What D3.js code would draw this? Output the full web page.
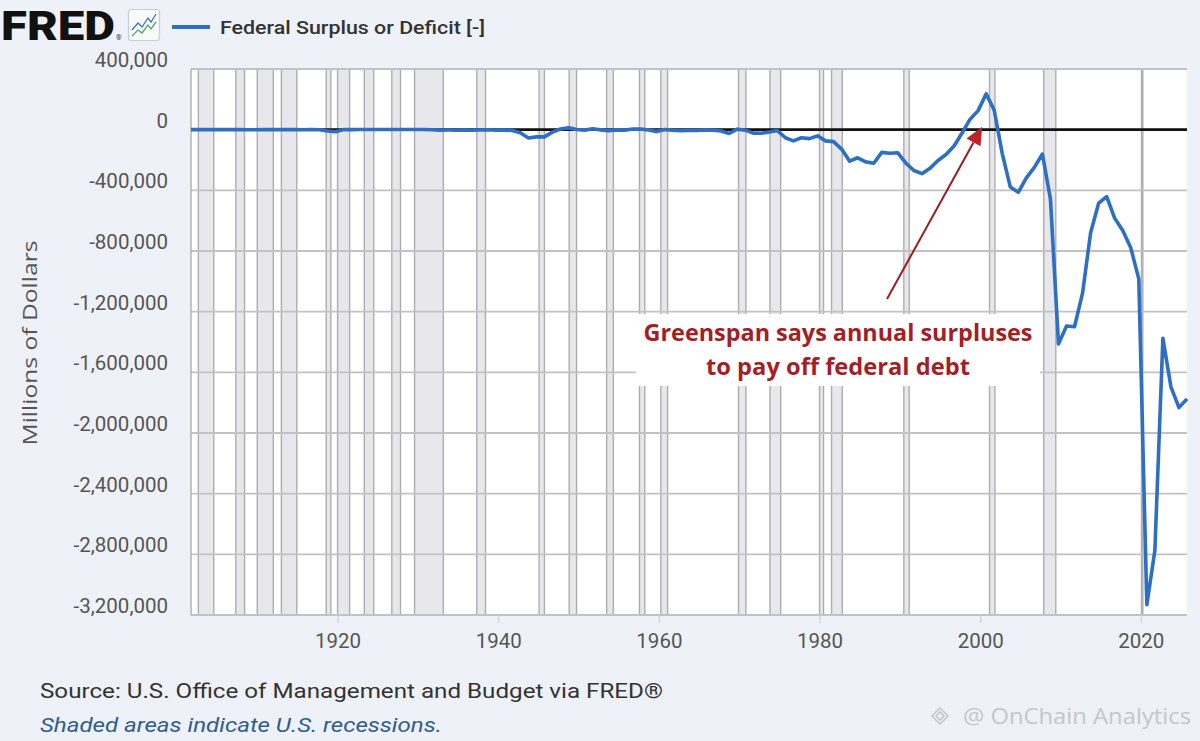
<!DOCTYPE html>
<html><head><meta charset="utf-8">
<script src="https://cdn.jsdelivr.net/npm/d3@7"></script>
<style>html,body{margin:0;padding:0;background:#eef1f7;}svg{display:block}</style>
</head><body><svg id="c" width="1200" height="741"></svg>
<script>
// ---------- data ----------
const years = [1901,1902,1903,1904,1905,1906,1907,1908,1909,1910,1911,1912,1913,1914,1915,1916,1917,1918,1919,1920,
1921,1922,1923,1924,1925,1926,1927,1928,1929,1930,1931,1932,1933,1934,1935,1936,1937,1938,1939,1940,
1941,1942,1943,1944,1945,1946,1947,1948,1949,1950,1951,1952,1953,1954,1955,1956,1957,1958,1959,1960,
1961,1962,1963,1964,1965,1966,1967,1968,1969,1970,1971,1972,1973,1974,1975,1976,1977,1978,1979,1980,
1981,1982,1983,1984,1985,1986,1987,1988,1989,1990,1991,1992,1993,1994,1995,1996,1997,1998,1999,2000,
2001,2002,2003,2004,2005,2006,2007,2008,2009,2010,2011,2012,2013,2014,2015,2016,2017,2018,2019,2020,
2021,2022,2023,2024,2025];
// Federal surplus or deficit, millions of dollars (fiscal years)
const deficit = [63,77,45,-43,-23,25,87,-57,-89,-18,11,3,0,0,-63,48,-853,-9032,-13363,291,
509,736,713,963,717,865,1155,939,734,738,-462,-2735,-2602,-3586,-2803,-4304,-2193,-89,-2846,-2920,
-4941,-20503,-54554,-47557,-47553,-15936,4018,11796,580,-3119,6102,-1519,-6493,-1154,-2993,3947,3412,-2769,-12849,301,
-3335,-7146,-4756,-5915,-1411,-3698,-8643,-25161,3242,-2842,-23033,-23373,-14908,-6135,-53242,-73732,-53659,-59185,-40726,-73830,
-78968,-127977,-207802,-185367,-212308,-221227,-149730,-155178,-152639,-221036,-269238,-290321,-255051,-203186,-163952,-107431,-21884,69270,125610,236241,
128236,-157758,-377585,-412727,-318346,-248181,-160701,-458553,-1412688,-1294373,-1299599,-1076573,-679775,-484602,-441960,-584651,-665446,-779137,-983594,-3132460,
-2775306,-1375858,-1695243,-1832813,-1775000];
const recessionStarts = ["1902-09","1907-05","1910-01","1913-01","1918-08","1920-01","1923-05","1926-10","1929-08","1937-05",
"1945-02","1948-11","1953-07","1957-08","1960-04","1969-12","1973-11","1980-01","1981-07","1990-07","2001-03","2007-12","2020-02"];
const recessionEnds = ["1904-08","1908-06","1912-01","1914-12","1919-03","1921-07","1924-07","1927-11","1933-03","1938-06",
"1945-10","1949-10","1954-05","1958-04","1961-02","1970-11","1975-03","1980-07","1982-11","1991-03","2001-11","2009-06","2020-04"];
const yTicks = [400000,0,-400000,-800000,-1200000,-1600000,-2000000,-2400000,-2800000,-3200000];
const xTickYears = [1920,1940,1960,1980,2000,2020];
const seriesTitle = "Federal Surplus or Deficit [-]";
const yTitle = "Millions of Dollars";
const sourceText = "Source: U.S. Office of Management and Budget via FRED\u00AE";
const noteText = "Shaded areas indicate U.S. recessions.";
const annotationLines = ["Greenspan says annual surpluses","to pay off federal debt"];
const annotationYear = 2000;
const watermark = "@ OnChain Analytics";

// ---------- setup ----------
const svg = d3.select("#c");
const W = 1200, H = 741;
const plot = {left:191, right:1187, top:69, bottom:615};
const parseM = d3.timeParse("%Y-%m");
const obsDate = y => new Date(y, 9, 1);
const data = years.map((y,i)=>({date:obsDate(y), v:deficit[i]}));

const x = d3.scaleTime().domain([obsDate(years[0]), obsDate(years[years.length-1])]).range([plot.left, plot.right]);
const y = d3.scaleLinear().domain([-3200000, 400000]).range([plot.bottom, plot.top]);
const fmt = d3.formatLocale({decimal:".", thousands:",", grouping:[3], currency:["$",""], minus:"-"}).format(",");

svg.append("rect").attr("width",W).attr("height",H).attr("fill","#eef1f7");
svg.append("rect").attr("x",plot.left).attr("y",plot.top).attr("width",plot.right-plot.left).attr("height",plot.bottom-plot.top).attr("fill","#ffffff");

// recession bands
const rec = recessionStarts.map((s,i)=>({s:parseM(s), e:parseM(recessionEnds[i])}));
const gRec = svg.append("g");
gRec.selectAll("rect").data(rec).join("rect")
  .attr("x",d=>x(d.s)).attr("width",d=>Math.max(1,x(d.e)-x(d.s)))
  .attr("y",plot.top).attr("height",plot.bottom-plot.top).attr("fill","#e8e8ec");
gRec.selectAll("line.a").data(rec).join("line").attr("class","a")
  .attr("x1",d=>x(d.s)).attr("x2",d=>x(d.s)).attr("y1",plot.top).attr("y2",plot.bottom)
  .attr("stroke","#adadb1").attr("stroke-width",1.4);
gRec.selectAll("line.b").data(rec).join("line").attr("class","b")
  .attr("x1",d=>x(d.e)).attr("x2",d=>x(d.e)).attr("y1",plot.top).attr("y2",plot.bottom)
  .attr("stroke","#adadb1").attr("stroke-width",1.4);

// horizontal gridlines
svg.append("g").selectAll("line").data(yTicks).join("line")
  .attr("x1",plot.left).attr("x2",plot.right).attr("y1",d=>y(d)).attr("y2",d=>y(d))
  .attr("stroke","#c2c2c6").attr("stroke-width",1.8);
// left border
svg.append("line").attr("x1",plot.left).attr("x2",plot.left).attr("y1",plot.top).attr("y2",plot.bottom)
  .attr("stroke","#b5b5b9").attr("stroke-width",1.5);

// y axis
const yAxis = svg.append("g").attr("transform",`translate(${plot.left},0)`)
  .call(d3.axisLeft(y).tickValues(yTicks).tickFormat(fmt).tickSize(0).tickPadding(23));
yAxis.select(".domain").remove();
yAxis.selectAll("text").attr("dy","-0.12em").attr("font-family","Roboto, sans-serif").attr("font-size",20.5).attr("fill","#555");

// x axis
const xAxis = svg.append("g").attr("transform",`translate(0,${plot.bottom})`)
  .call(d3.axisBottom(x).tickValues(xTickYears.map(v=>new Date(v,0,1))).tickFormat(d3.timeFormat("%Y")).tickSize(8).tickPadding(10));
xAxis.select(".domain").remove();
xAxis.selectAll("line").attr("stroke","#cfcfd3").attr("stroke-width",1.2);
xAxis.selectAll("text").attr("font-family","Roboto, sans-serif").attr("font-size",20.5).attr("fill","#555");

// zero line
svg.append("line").attr("x1",plot.left).attr("x2",plot.right).attr("y1",y(0)).attr("y2",y(0))
  .attr("stroke","#111").attr("stroke-width",2.6);

// annotation box
svg.append("rect").attr("x",636).attr("y",314).attr("width",404).attr("height",72).attr("fill","#ffffff");

// series line
svg.append("path").datum(data)
  .attr("d",d3.line().x(d=>x(d.date)).y(d=>y(d.v)))
  .attr("fill","none").attr("stroke","#2d6fc3").attr("stroke-width",3.6).attr("stroke-linejoin","round");

// annotation arrow
const peak = data[years.indexOf(annotationYear)];
const tip = [x(peak.date)-4, y(0)-3];
const tail = [887, 299];
const ang = Math.atan2(tip[1]-tail[1], tip[0]-tail[0]);
const hl = 18, hw = 8;
const base = [tip[0]-hl*Math.cos(ang), tip[1]-hl*Math.sin(ang)];
svg.append("line").attr("x1",tail[0]).attr("y1",tail[1]).attr("x2",base[0]).attr("y2",base[1])
  .attr("stroke","#9b1c22").attr("stroke-width",2);
svg.append("path").attr("d",d3.line()([tip,[base[0]+hw*Math.sin(ang),base[1]-hw*Math.cos(ang)],[base[0]-hw*Math.sin(ang),base[1]+hw*Math.cos(ang)]]))
  .attr("fill","#c0222a");

// annotation text
const ann = svg.append("g").attr("font-family","'Open Sans', sans-serif").attr("font-weight",700).attr("fill","#a41e25").attr("text-anchor","middle");
ann.append("text").attr("x",838).attr("y",341).attr("font-size",23).attr("textLength",389).attr("lengthAdjust","spacingAndGlyphs").text(annotationLines[0]);
ann.append("text").attr("x",838).attr("y",375).attr("font-size",23).attr("textLength",264).attr("lengthAdjust","spacingAndGlyphs").text(annotationLines[1]);

// y title
svg.append("text").attr("transform","translate(37,343) rotate(-90)").attr("text-anchor","middle")
  .attr("font-family","'Open Sans', sans-serif").attr("font-size",20).attr("fill","#555")
  .attr("textLength",205).attr("lengthAdjust","spacingAndGlyphs").text(yTitle);

// header: FRED logo
svg.append("text").attr("x",1).attr("y",40).attr("font-family","Roboto, 'Liberation Sans', sans-serif").attr("font-weight",900)
  .attr("font-size",41).attr("fill","#111").attr("textLength",114).attr("lengthAdjust","spacingAndGlyphs").text("FRED");
svg.append("text").attr("x",116).attr("y",40).attr("font-family","Roboto, sans-serif").attr("font-size",7).attr("fill","#333").text("\u00AE");
// icon
svg.append("rect").attr("x",128.5).attr("y",9.5).attr("width",31).attr("height",31).attr("rx",3)
  .attr("fill","#f7f9fb").attr("stroke","#c9cdd3").attr("stroke-width",1.2);
svg.append("path").attr("d",d3.line()([[132,30],[138,23],[142,27],[148,18],[151,22],[156,14]]))
  .attr("fill","none").attr("stroke","#3b76b8").attr("stroke-width",1.3);
svg.append("path").attr("d",d3.line()([[132,36],[138,30],[142,33],[148,25],[151,29],[156,22]]))
  .attr("fill","none").attr("stroke","#5aa36c").attr("stroke-width",1.3);
// legend
svg.append("line").attr("x1",172).attr("x2",210).attr("y1",27).attr("y2",27).attr("stroke","#2d6fc3").attr("stroke-width",4);
svg.append("text").attr("x",220).attr("y",34).attr("font-family","Roboto, sans-serif").attr("font-weight",500)
  .attr("font-size",19).attr("fill","#333").attr("textLength",265).attr("lengthAdjust","spacingAndGlyphs").text(seriesTitle);

// footer
svg.append("text").attr("x",40).attr("y",698).attr("font-family","Roboto, sans-serif").attr("font-size",20).attr("fill","#333")
  .attr("textLength",623).attr("lengthAdjust","spacingAndGlyphs").text(sourceText);
svg.append("text").attr("x",40).attr("y",732).attr("font-family","Roboto, sans-serif").attr("font-style","italic").attr("font-size",20).attr("fill","#2f5d8c")
  .attr("textLength",402).attr("lengthAdjust","spacingAndGlyphs").text(noteText);

// watermark
const wm = svg.append("g").attr("fill","none").attr("stroke","#c4c7cc").attr("stroke-width",1.6);
wm.append("path").attr("d","M940,708 L948,716 L940,724 L932,716 Z");
wm.append("path").attr("d","M936,716 L940,712 L944,716 L940,720 Z");
svg.append("text").attr("x",963).attr("y",724).attr("font-family","'Open Sans', sans-serif").attr("font-size",21).attr("fill","#c4c7cc")
  .attr("textLength",228).attr("lengthAdjust","spacingAndGlyphs").text(watermark);
</script></body></html>
